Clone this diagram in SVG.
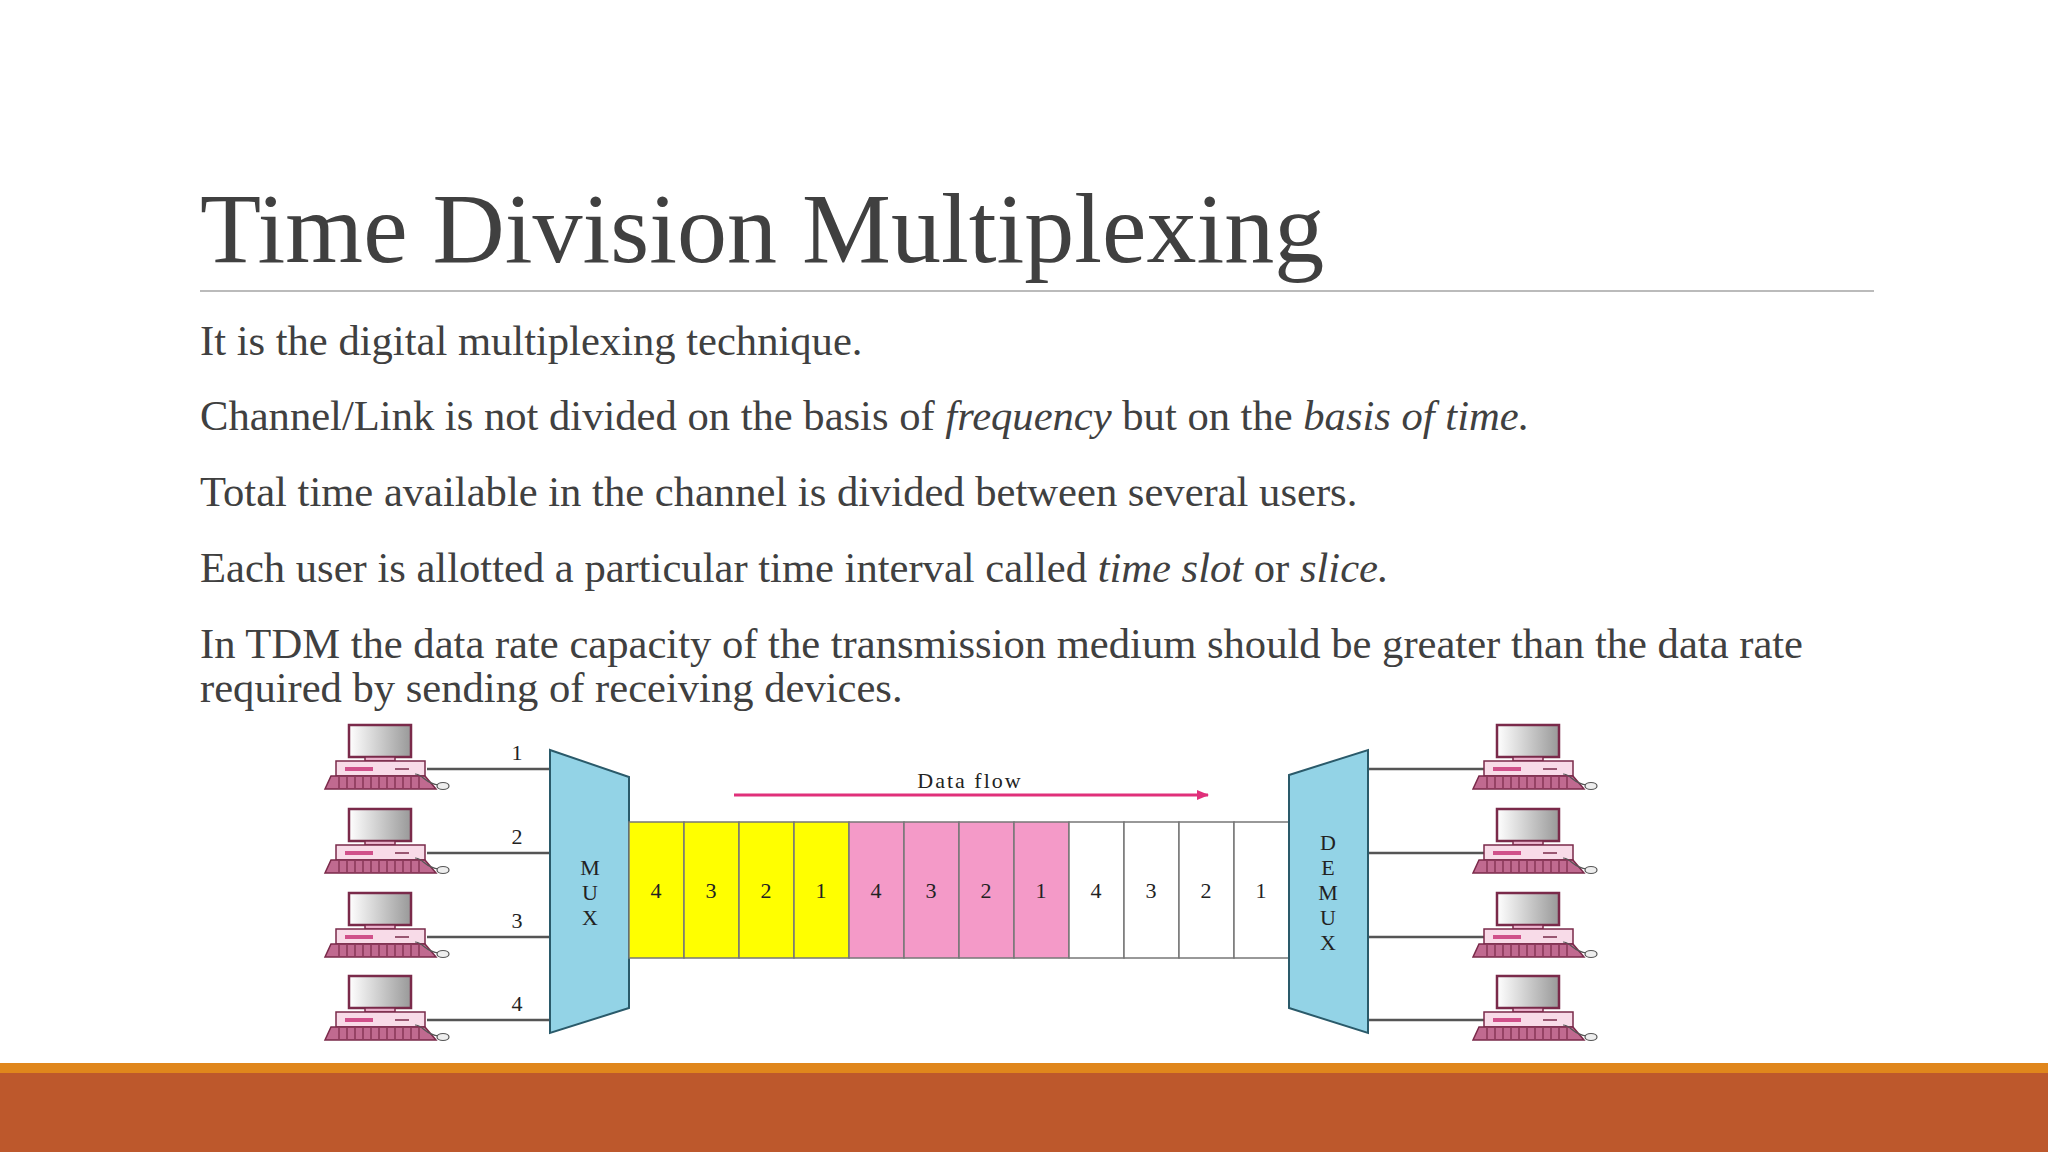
<svg xmlns="http://www.w3.org/2000/svg" width="2048" height="1152" viewBox="0 0 2048 1152">
<style>
.t{font-family:"Liberation Serif",serif;fill:#404040}
.b{font-size:42.6px}
.n{font-family:"Liberation Serif",serif;font-size:22px;fill:#222;text-anchor:middle}
.w{stroke:#555;stroke-width:2.5}
.mx{fill:#93d3e6;stroke:#2a5a6a;stroke-width:2}
.cell{stroke:#777;stroke-width:1.5}
</style>
<defs>
<linearGradient id="scr" x1="0" y1="0" x2="1" y2="0"><stop offset="0" stop-color="#fff"/><stop offset="1" stop-color="#999"/></linearGradient>
<marker id="ah" markerWidth="12" markerHeight="10" refX="11" refY="5" orient="auto" markerUnits="userSpaceOnUse"><path d="M0,0L12,5L0,10z" fill="#e0307a"/></marker>
<g id="pc">
<rect x="24" y="0" width="62" height="32" fill="url(#scr)" stroke="#7a2a4a" stroke-width="2.5"/>
<rect x="40" y="32" width="30" height="4" fill="#e9b3cc" stroke="#7a2a4a" stroke-width="1.5"/>
<rect x="11" y="36" width="89" height="15" fill="#f8dbe8" stroke="#7a2a4a" stroke-width="1.5"/>
<rect x="20" y="42" width="28" height="4" fill="#d0508a"/>
<path d="M70,44h14" stroke="#7a2a4a" stroke-width="1.5"/>
<polygon points="6,51 100,51 111,64 0,64" fill="#c06a90" stroke="#7a2a4a" stroke-width="1.5"/>
<path d="M14,52v11M22,52v11M30,52v11M38,52v11M46,52v11M54,52v11M62,52v11M70,52v11M78,52v11M86,52v11M94,52v11" stroke="#7a2a4a" stroke-width="1.2"/>
<path d="M90,49c8,0 10,10 24,11" fill="none" stroke="#555" stroke-width="1.2"/>
<ellipse cx="118" cy="61" rx="6" ry="3.5" fill="#eee" stroke="#555" stroke-width="1.2"/>
</g>
</defs>
<rect width="2048" height="1152" fill="#fff"/>
<text class="t" x="200" y="262" font-size="100">Time Division Multiplexing</text>
<line x1="200" y1="291" x2="1874" y2="291" stroke="#bbb" stroke-width="2"/>
<g class="t b">
<text x="200" y="355">It is the digital multiplexing technique.</text>
<text x="200" y="430">Channel/Link is not divided on the basis of <tspan font-style="italic">frequency</tspan> but on the <tspan font-style="italic">basis of time.</tspan></text>
<text x="200" y="506">Total time available in the channel is divided between several users.</text>
<text x="200" y="582">Each user is allotted a particular time interval called <tspan font-style="italic">time slot</tspan> or <tspan font-style="italic">slice.</tspan></text>
<text x="200" y="658">In TDM the data rate capacity of the transmission medium should be greater than the data rate</text>
<text x="200" y="702">required by sending of receiving devices.</text>
</g>
<g id="connectors">
<path class="w" d="M427,769H550M427,853H550M427,937H550M427,1020H550M1368,769H1487M1368,853H1487M1368,937H1487M1368,1020H1487"/>
<line x1="734" y1="795" x2="1208" y2="795" stroke="#e0307a" stroke-width="3" marker-end="url(#ah)"/>
</g>
<g id="labels">
<text class="n" x="517" y="760">1</text><text class="n" x="517" y="844">2</text><text class="n" x="517" y="928">3</text><text class="n" x="517" y="1011">4</text>
<text class="n" x="970" y="788" font-size="24" letter-spacing="2">Data flow</text>
</g>
<g id="senders">
<use href="#pc" x="325" y="725"/><use href="#pc" x="325" y="809"/><use href="#pc" x="325" y="893"/><use href="#pc" x="325" y="976"/>
</g>
<g id="receivers">
<use href="#pc" x="1473" y="725"/><use href="#pc" x="1473" y="809"/><use href="#pc" x="1473" y="893"/><use href="#pc" x="1473" y="976"/>
</g>
<g id="mux">
<polygon class="mx" points="550,750 629,777 629,1008 550,1033"/>
<text class="n" x="590" y="875" font-size="27">M</text><text class="n" x="590" y="900" font-size="27">U</text><text class="n" x="590" y="925" font-size="27">X</text>
</g>
<g id="frames">
<g fill="#ffff00" class="cell"><rect x="629" y="822" width="55" height="136"/><rect x="684" y="822" width="55" height="136"/><rect x="739" y="822" width="55" height="136"/><rect x="794" y="822" width="55" height="136"/></g>
<g fill="#f49ac8" class="cell"><rect x="849" y="822" width="55" height="136"/><rect x="904" y="822" width="55" height="136"/><rect x="959" y="822" width="55" height="136"/><rect x="1014" y="822" width="55" height="136"/></g>
<g fill="#fff" class="cell"><rect x="1069" y="822" width="55" height="136"/><rect x="1124" y="822" width="55" height="136"/><rect x="1179" y="822" width="55" height="136"/><rect x="1234" y="822" width="55" height="136"/></g>
<g>
<text class="n" x="656" y="898">4</text><text class="n" x="711" y="898">3</text><text class="n" x="766" y="898">2</text><text class="n" x="821" y="898">1</text>
<text class="n" x="876" y="898">4</text><text class="n" x="931" y="898">3</text><text class="n" x="986" y="898">2</text><text class="n" x="1041" y="898">1</text>
<text class="n" x="1096" y="898">4</text><text class="n" x="1151" y="898">3</text><text class="n" x="1206" y="898">2</text><text class="n" x="1261" y="898">1</text>
</g>
</g>
<g id="demux">
<polygon class="mx" points="1289,775 1368,750 1368,1033 1289,1008"/>
<text class="n" x="1328" y="850" font-size="27">D</text><text class="n" x="1328" y="875" font-size="27">E</text><text class="n" x="1328" y="900" font-size="27">M</text><text class="n" x="1328" y="925" font-size="27">U</text><text class="n" x="1328" y="950" font-size="27">X</text>
</g>
<rect x="0" y="1063" width="2048" height="10" fill="#e0861c"/>
<rect x="0" y="1073" width="2048" height="79" fill="#bd582c"/>
</svg>
